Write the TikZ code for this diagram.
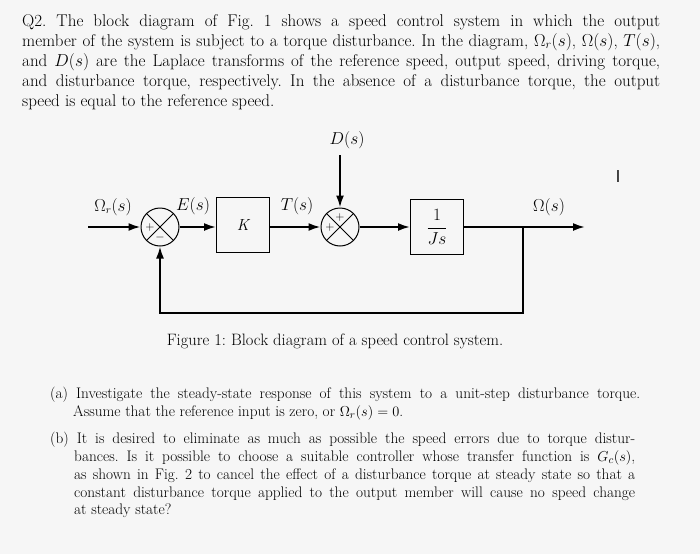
\documentclass[tikz,border=0pt]{standalone}
\usetikzlibrary{arrows.meta}
\begin{document}
\frenchspacing
\begin{tikzpicture}[x=1pt,y=-1pt,
  blk/.style={draw,line width=1pt,minimum width=53pt,minimum height=55pt,font=\fontsize{16}{18}\selectfont\itshape},
  sumj/.style={draw,circle,line width=1pt,minimum size=38pt,inner sep=0pt},
  sig/.style={line width=2pt,-{Latex[length=12pt,width=8pt]}},
  lbl/.style={font=\fontsize{16}{18}\selectfont},
  sgn/.style={font=\fontsize{13}{14}\selectfont},
  ln/.style={anchor=west,inner sep=0pt,font=\fontsize{17}{18}\selectfont},
  ln2/.style={anchor=west,inner sep=0pt,font=\fontsize{15.3}{16}\selectfont}]
\fill[gray!7] (0,0) rectangle (700,554);
\useasboundingbox (0,0) rectangle (700,554);
% text
\node[ln] (l1) at (22,22) {\makebox[638pt][s]{Q2. The block diagram of Fig. 1 shows a speed control system in which the output}};
\node[ln] (l2) at (22,42) {\makebox[638pt][s]{member of the system is subject to a torque disturbance. In the diagram, $\Omega_r(s)$, $\Omega(s)$, $T(s)$,}};
\node[ln] (l3) at (22,62) {\makebox[638pt][s]{and $D(s)$ are the Laplace transforms of the reference speed, output speed, driving torque,}};
\node[ln] (l4) at (22,82) {\makebox[638pt][s]{and disturbance torque, respectively. In the absence of a disturbance torque, the output}};
\node[ln] (l5) at (22,102) {speed is equal to the reference speed.};
% diagram
\node[sumj] (s1) at (160,227) {};
\node[blk] (k) at (243,225) {K};
\node[sumj] (s2) at (340,227) {};
\node[blk] (g) at (437,227) {$\displaystyle\frac{1}{Js}$};
\foreach \s in {s1,s2}{
  \draw[line width=1pt] (\s.north west) -- (\s.south east) (\s.north east) -- (\s.south west);}
\node[sgn] at ([xshift=-10pt]s1.center) {$+$};
\node[sgn] at ([yshift=-10pt]s1.center) {$-$};
\node[sgn] at ([xshift=-10pt]s2.center) {$+$};
\node[sgn] at ([yshift=10pt]s2.center) {$+$};
\coordinate (in) at (88,227);
\coordinate (dtop) at (340,155);
\coordinate (br) at (523,227);
\coordinate (out) at (585,227);
\coordinate (bot) at (523,313);
\draw[sig] (in) -- (s1);
\draw[sig] (s1) -- (k.west |- s1);
\draw[sig] (k.east |- s2) -- (s2);
\draw[sig] (dtop) -- (s2);
\draw[sig] (s2) -- (g.west |- s2);
\draw[sig] (g.east |- s2) -- (out);
\draw[sig] (br) -- (bot) -- (s1 |- bot) -- (s1);
\node[lbl] (lr) at (113,207) {$\Omega_r(s)$};
\node[lbl] (le) at (193,206) {$E(s)$};
\node[lbl] (lt) at (297,206) {$T(s)$};
\node[lbl] (ld) at (347,140) {$D(s)$};
\node[lbl] (lo) at (549,207) {$\Omega(s)$};
\node[font=\sffamily\LARGE] (cur) at (618,176) {I};
\node[font=\fontsize{16.5}{18}\selectfont] (cap) at (335,341) {Figure 1: Block diagram of a speed control system.};
% questions
\node[ln2] (a1) at (50,395) {\makebox[590pt][s]{(a) Investigate the steady-state response of this system to a unit-step disturbance torque.}};
\node[ln2] (a2) at (73,413) {Assume that the reference input is zero, or $\Omega_r(s)=0$.};
\node[ln2] (b1) at (50,440) {\makebox[585pt][s]{(b) It is desired to eliminate as much as possible the speed errors due to torque distur-}};
\node[ln2] (b2) at (74,458) {\makebox[561pt][s]{bances. Is it possible to choose a suitable controller whose transfer function is $G_c(s)$,}};
\node[ln2] (b3) at (74,476) {\makebox[561pt][s]{as shown in Fig. 2 to cancel the effect of a disturbance torque at steady state so that a}};
\node[ln2] (b4) at (74,494) {\makebox[561pt][s]{constant disturbance torque applied to the output member will cause no speed change}};
\node[ln2] (b5) at (74,511) {at steady state?};
\end{tikzpicture}
\end{document}
